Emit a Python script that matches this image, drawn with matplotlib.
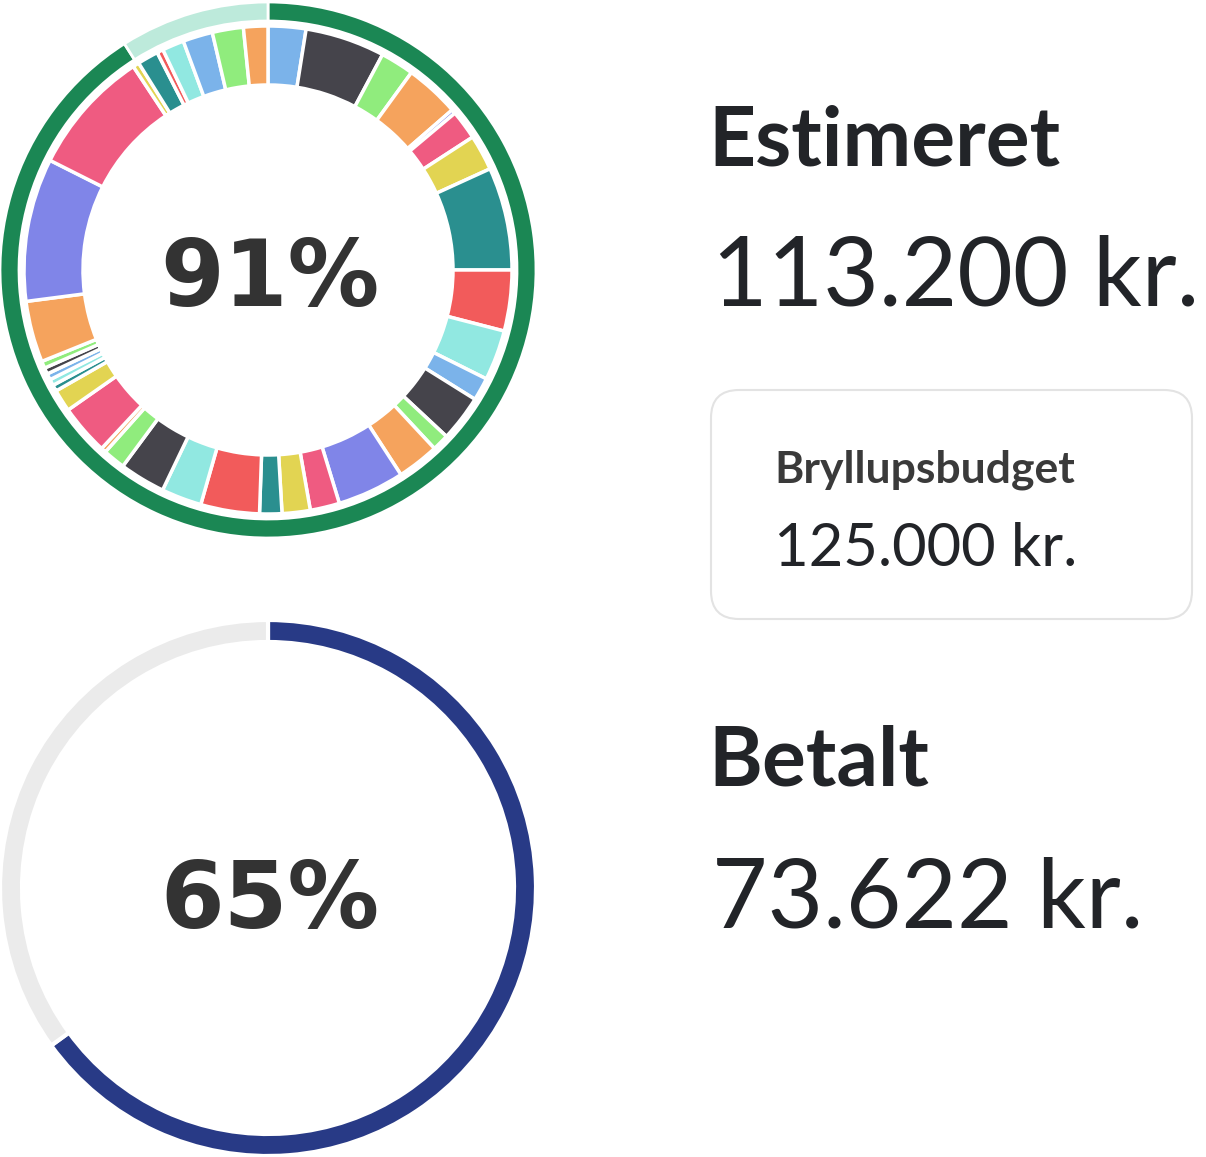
import matplotlib
matplotlib.use("Agg")
import matplotlib.pyplot as plt
from matplotlib.patches import FancyBboxPatch

# data
est_pct = [91, 9]
paid_pct = [65, 35]
seg_values = [9, 19, 8, 13, 1, 7, 8.5, 24.5, 14.5, 12, 5.5, 11, 4, 10, 16, 7, 6.7, 5.3, 14, 9.6, 10.9,
              5.3, 1.2, 12, 5.3, 1.5, 1.5, 1.5, 1.5, 1.7, 14.6, 34.1, 29.8, 1.5, 5, 1.5, 5.2, 7.1, 7.4, 5.8]
seg_colors = ['#7bb3ea', '#45444b', '#90ec7d', '#f5a35d', '#8085e8', '#ef5b81', '#e2d452', '#2a8f8f',
              '#f25b5b', '#91e8e1', '#7bb3ea', '#45444b', '#90ec7d', '#f5a35d', '#8085e8', '#ef5b81',
              '#e2d452', '#2a8f8f', '#f25b5b', '#91e8e1', '#45444b', '#90ec7d', '#f5a35d', '#ef5b81',
              '#e2d452', '#2a8f8f', '#91e8e1', '#7bb3ea', '#45444b', '#90ec7d', '#f5a35d', '#8085e8',
              '#ef5b81', '#e2d452', '#2a8f8f', '#f25b5b', '#91e8e1', '#7bb3ea', '#90ec7d', '#f5a35d']
est_label = "91%"
paid_label = "65%"

W, H = 1206, 1157
fig = plt.figure(figsize=(W/100, H/100), dpi=100)
ax = fig.add_axes([0, 0, 1, 1])

c1 = (268, H - 270)
c2 = (268, H - 888)
ax.pie(est_pct, colors=['#1b8754', '#bdeadb'], radius=268, center=c1, startangle=90, counterclock=False,
       wedgeprops=dict(width=19, edgecolor='white', linewidth=2), frame=True)
ax.pie(seg_values, colors=seg_colors, radius=244, center=c1, startangle=90, counterclock=False,
       wedgeprops=dict(width=59, edgecolor='white', linewidth=2.5), frame=True)
ax.pie(paid_pct, colors=['#283a86', '#ebebeb'], radius=268, center=c2, startangle=90, counterclock=False,
       wedgeprops=dict(width=22, edgecolor='white', linewidth=3), frame=True)

ax.set_xlim(0, W)
ax.set_ylim(0, H)
ax.set_aspect('equal')
ax.axis('off')

ax.text(c1[0] + 2, c1[1] - 36, est_label, ha='center', va='baseline', fontsize=66, fontweight='bold',
        family='DejaVu Sans', color='#333333')
ax.text(c2[0] + 2, c2[1] - 40, paid_label, ha='center', va='baseline', fontsize=66, fontweight='bold',
        family='DejaVu Sans', color='#333333')

dark = '#222428'
ax.text(708, H - 165, "Estimeret", ha='left', va='baseline', fontsize=59, fontweight='bold', family='Lato', color=dark)
ax.text(712, H - 305, "113.200 kr.", ha='left', va='baseline', fontsize=69, fontweight='normal', family='Lato', color=dark)
ax.text(708, H - 785, "Betalt", ha='left', va='baseline', fontsize=59, fontweight='bold', family='Lato', color=dark)
ax.text(712, H - 928, "73.622 kr.", ha='left', va='baseline', fontsize=69, fontweight='normal', family='Lato', color=dark)

box = FancyBboxPatch((711, H - 619), 481, 229, boxstyle="round,pad=0,rounding_size=28",
                     facecolor='white', edgecolor='#e3e3e3', linewidth=1.5)
ax.add_patch(box)
ax.text(774, H - 482, "Bryllupsbudget", ha='left', va='baseline', fontsize=32, fontweight='bold', family='Lato', color='#3a3a3a')
ax.text(774, H - 566, "125.000 kr.", ha='left', va='baseline', fontsize=43, family='Lato', color=dark)

fig.savefig("out.png", dpi=100, facecolor='white')
